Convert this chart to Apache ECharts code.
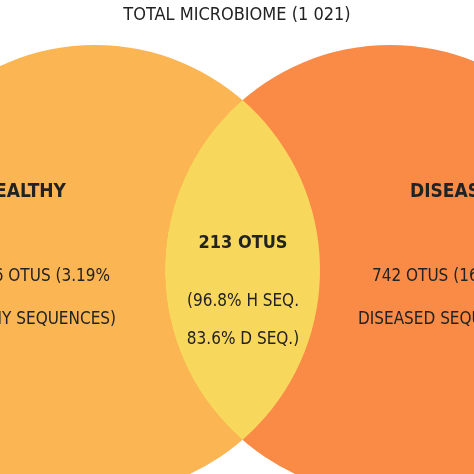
<!DOCTYPE html>
<html><head><meta charset="utf-8">
<script src="https://cdn.jsdelivr.net/npm/echarts@6/dist/echarts.min.js"></script>
<style>html,body{margin:0;padding:0;background:#fff}#main{width:474px;height:474px}</style>
</head><body><div id="main"></div>
<script>
// sets: name, centre x, centre y, radius (in chart units)
var setNames=['Healthy','Diseased'];
var circleX=[95,390];
var circleY=[270,270];
var circleR=[225,225];
var setColors=['#fbb552','#f98b47'];
var lensColor='#f8d85c';
var titleText='TOTAL MICROBIOME (1 021)';

var font="'Liberation Sans Narrow','DejaVu Sans Condensed','Roboto Condensed',sans-serif";
var chart=echarts.init(document.getElementById('main'));

function circles(params,api){
  var c=api.coord([api.value(0),api.value(1)]);
  var e=api.coord([api.value(0)+api.value(2),api.value(1)]);
  return {type:'circle',shape:{cx:c[0],cy:c[1],r:Math.abs(e[0]-c[0])},style:{fill:setColors[params.dataIndex]}};
}
function lens(params,api){
  var d=circleX[1]-circleX[0],r=circleR[0];
  var mx=(circleX[0]+circleX[1])/2,h=Math.sqrt(r*r-d*d/4);
  var p1=api.coord([mx,circleY[0]-h]),p2=api.coord([mx,circleY[0]+h]);
  var rr=Math.abs(api.coord([r,0])[0]-api.coord([0,0])[0]);
  return {type:'path',shape:{pathData:'M'+p1[0]+','+p1[1]+' A'+rr+','+rr+' 0 0 1 '+p2[0]+','+p2[1]+' A'+rr+','+rr+' 0 0 1 '+p1[0]+','+p1[1]+' Z'},
    style:{fill:lensColor}};
}
function txt(t,x,y,align,bold,size){
  return {type:'text',x:x,y:y,z:10,style:{text:t,fill:'#222',font:(bold?'bold ':'')+(size||17)+'px '+font,textAlign:align,textVerticalAlign:'middle'}};
}
chart.setOption({
  animation:false,
  grid:{left:0,right:0,top:0,bottom:0},
  xAxis:{type:'value',min:0,max:474,show:false},
  yAxis:{type:'value',min:0,max:474,inverse:true,show:false},
  series:[
    {type:'custom',renderItem:circles,data:setNames.map(function(n,i){return [circleX[i],circleY[i],circleR[i]];})},
    {type:'custom',renderItem:lens,data:[[0]]}
  ],
  graphic:[
    txt(titleText,237,15,'center',false,18),
    txt('HEALTHY',66,192,'right',true,19),
    txt('66 OTUS (3.19%',110,277,'right'),
    txt('OF HEALTHY SEQUENCES)',116,320,'right'),
    txt('213 OTUS',243,243,'center',true,18),
    txt('(96.8% H SEQ.',243,302,'center'),
    txt('83.6% D SEQ.)',243,340,'center'),
    txt('DISEASED',410,192,'left',true,19),
    txt('742 OTUS (16.4%',372,277,'left'),
    txt('DISEASED SEQUENCES)',358,320,'left')
  ]
});
</script></body></html>
